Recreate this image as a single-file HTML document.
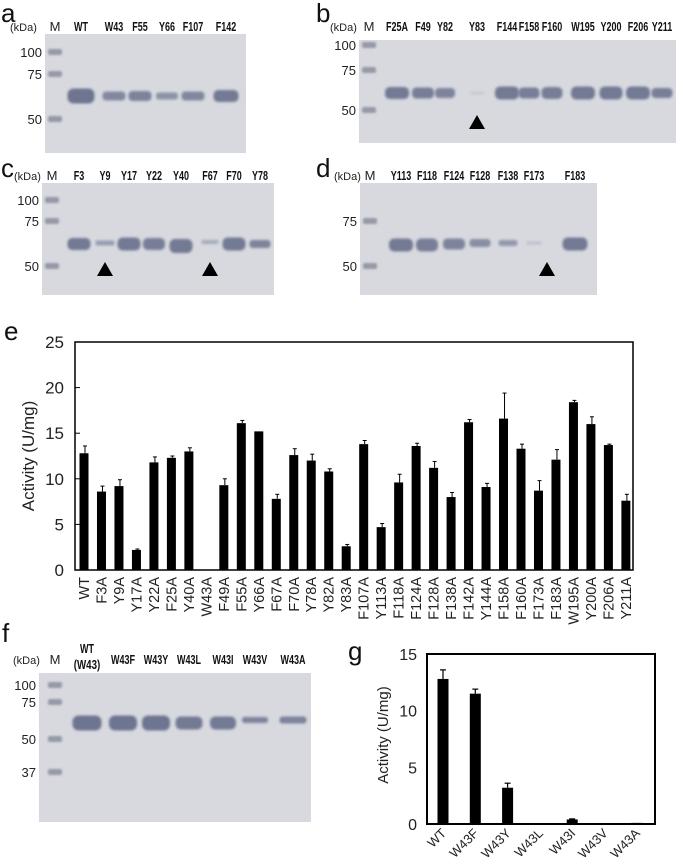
<!DOCTYPE html>
<html><head><meta charset="utf-8">
<style>
html,body{margin:0;padding:0;background:#fff;}
svg{display:block;font-family:"Liberation Sans",Arial,sans-serif;}
.lab{font-size:12.5px;font-weight:bold;fill:#111;}
.kda{font-size:11px;fill:#222;}
.mk{font-size:13px;fill:#222;}
.pl{font-size:26px;fill:#111;}
</style></head>
<body>
<svg id="fig" width="685" height="866" viewBox="0 0 685 866">
<defs>
<filter id="bl" x="-30%" y="-80%" width="160%" height="260%"><feGaussianBlur stdDeviation="1.4"/></filter>
<filter id="bl2" x="-30%" y="-80%" width="160%" height="260%"><feGaussianBlur stdDeviation="1"/></filter>
</defs>
<g id="gels"></g>
<g id="chartE"></g>
<g id="chartG"></g>
</svg>
<script>
// ---------- Chart e data ----------
const eCategories = ["WT","F3A","Y9A","Y17A","Y22A","F25A","Y40A","W43A","F49A","F55A","Y66A","F67A","F70A","Y78A","Y82A","Y83A","F107A","Y113A","F118A","F124A","F128A","F138A","F142A","Y144A","F158A","F160A","F173A","F183A","W195A","Y200A","F206A","Y211A"];
const eValues = [12.8,8.6,9.2,2.2,11.8,12.3,13.0,0.05,9.3,16.1,15.2,7.8,12.6,12.0,10.8,2.6,13.8,4.7,9.6,13.6,11.2,8.0,16.2,9.1,16.6,13.3,8.7,12.1,18.4,16.0,13.7,7.6];
const eErrors = [0.8,0.6,0.7,0.1,0.6,0.2,0.4,0,0.7,0.3,0,0.5,0.7,0.7,0.3,0.2,0.4,0.4,0.9,0.3,0.7,0.5,0.3,0.4,2.8,0.5,1.1,1.1,0.2,0.8,0.1,0.7];
const eTicks = [0,5,10,15,20,25];
// ---------- Chart g data ----------
const gCategories = ["WT","W43F","W43Y","W43L","W43I","W43V","W43A"];
const gValues = [12.8,11.5,3.2,0,0.4,0,0.1];
const gErrors = [0.8,0.4,0.4,0,0.05,0,0];
const gTicks = [0,5,10,15];

const NS="http://www.w3.org/2000/svg";
function mk(parent,tag,attrs,text){const e=document.createElementNS(NS,tag);for(const k in attrs)e.setAttribute(k,attrs[k]);if(text!==undefined)e.textContent=text;parent.appendChild(e);return e;}
function condense(t,f){try{const w=t.getComputedTextLength();if(w>0){t.setAttribute('textLength',(w*f).toFixed(1));t.setAttribute('lengthAdjust','spacingAndGlyphs');}}catch(e){}}

// ---------- Gels ----------
const gels=document.getElementById('gels');
function gel(o){
  const g=mk(gels,'g',{});
  
  
  const pl=mk(g,'text',{x:o.px,y:o.py,class:'pl'},o.letter);
  
  
  mk(g,'rect',{x:o.x,y:o.y,width:o.w,height:o.h,fill:'#d7d9df'});
  mk(g,'text',{x:o.kx,y:o.ly,class:'kda'},'(kDa)');
  mk(g,'text',{x:o.mx,y:o.ly,class:'mk','text-anchor':'middle'},'M');
  o.markers.forEach(m=>{
    mk(g,'rect',{x:o.mx-7,y:m[1]-3,width:14,height:6,rx:2,fill:'#9599a6',filter:'url(#bl2)'});
    mk(g,'text',{x:o.x-3,y:m[1]+5,class:'mk','text-anchor':'end'},m[0]);
  });
  o.lanes.forEach(l=>{
    const t=mk(g,'text',{x:l[1],y:o.ly,class:'lab','text-anchor':'middle'},l[0]);
    
    
    condense(t,0.72);
    if(l[3]>0) mk(g,'rect',{x:l[1]-l[4]/2,y:o.by-l[3]/2+(l[5]||0),width:l[4],height:l[3],rx:l[3]/2.5,fill:'#6e7590',opacity:l[2],filter:'url(#bl)'});
  });
  (o.arrows||[]).forEach(a=>{
    const p=mk(g,'polygon',{points:`${a},${o.ay} ${a-8},${o.ay+14} ${a+8},${o.ay+14}`,fill:'#000'});
    
    
  });
}
gel({name:'gel-a',letter:'a',px:1,py:22,x:45,y:34,w:201,h:119,kx:10,ly:31,mx:55,by:96,
 markers:[['100',52],['75',74],['50',119]],
 lanes:[['WT',81,1,15,27],['W43',114,0.8,9,23],['F55',140,0.85,10,23],['Y66',167,0.7,7,22],['F107',193,0.8,9,23],['F142',226,0.95,12,25]]});
gel({name:'gel-b',letter:'b',px:316,py:22,x:359,y:40,w:317,h:103,kx:330,ly:31,mx:369,by:93,
 markers:[['100',45],['75',70],['50',110]],
 lanes:[['F25A',397,0.95,12,24],['F49',423,0.9,11,22],['Y82',445,0.85,10,20],['Y83',477,0.15,3,14],['F144',507,0.95,13,24],['F158',529,0.9,11,21],['F160',552,0.9,12,21],['W195',583,0.95,13,24],['Y200',611,0.95,13,23],['F206',638,0.95,13,24],['Y211',662,0.9,10,21]],
 arrows:[477],ay:115});
gel({name:'gel-c',letter:'c',px:1,py:177,x:42,y:183,w:232,h:112,kx:14,ly:180,mx:52,by:244,
 markers:[['100',200],['75',221],['50',266]],
 lanes:[['F3',79,0.95,12,23],['Y9',105,0.6,5,19,-1],['Y17',129,0.95,13,23],['Y22',154,0.9,12,22],['Y40',181,0.95,14,23,2],['F67',210,0.45,4,17,-2],['F70',234,0.95,13,23],['Y78',260,0.85,8,21]],
 arrows:[105,210],ay:262});
gel({name:'gel-d',letter:'d',px:316,py:177,x:360,y:183,w:237,h:112,kx:334,ly:180,mx:370,by:244,
 markers:[['75',221],['50',266]],
 lanes:[['Y113',401,0.95,13,24,1],['F118',427,0.9,13,22,1],['F124',454,0.85,11,22],['F128',480,0.75,8,21,-1],['F138',508,0.65,6,19,-1],['F173',534,0.25,3,15,-1],['F183',575,0.95,13,25]],
 arrows:[547],ay:262});
gel({name:'gel-f',letter:'f',px:2,py:642,x:39,y:673,w:272,h:149,kx:13,ly:664,mx:55,by:723,
 markers:[['100',685],['75',702],['50',739],['37',772]],
 lanes:[['WT',87,1,15,29],['W43F',123,1,15,28],['W43Y',156,1,15,28],['W43L',189,0.95,13,27],['W43I',223,0.95,13,26],['W43V',255,0.85,6,26,-3],['W43A',293,0.85,7,27,-3]]});
(function(){
  const t=mk(gels,'text',{x:87,y:669,class:'lab','text-anchor':'middle'},'(W43)');
  condense(t,0.78);
  gels.querySelectorAll('text').forEach(t=>{if(t.textContent==='WT'&&t.getAttribute('y')==='664')t.setAttribute('y','653');});
})();

// ---------- Chart e ----------
(function(){
  const G=document.getElementById('chartE');
  const L=75,R=633,T=342,B=570,max=25;
  const y=v=>B-(v/max)*(B-T);
  const step=17.48, x0=84;
  const x=i=>x0+i*step;
  mk(G,'text',{x:4,y:340,class:'pl'},'e');
  eTicks.forEach(t=>{
    mk(G,'line',{x1:L,x2:L+5,y1:y(t),y2:y(t),stroke:'#000'});
    mk(G,'text',{x:64,y:y(t)+6,'font-size':17,'text-anchor':'end',fill:'#222'},t);
  });
  mk(G,'text',{x:0,y:0,'font-size':17,'text-anchor':'middle',fill:'#222',transform:'translate(34,456) rotate(-90)'},'Activity  (U/mg)');
  eCategories.forEach((c,i)=>{
    const v=eValues[i],e=eErrors[i];
    const b=mk(G,'rect',{x:x(i)-4.5,y:y(v),width:9,height:B-y(v),fill:'#000'});
    
    
    if(e>0){mk(G,'line',{x1:x(i)+1,x2:x(i)+1,y1:y(v+e),y2:y(v),stroke:'#000','stroke-width':1});
      mk(G,'line',{x1:x(i)-1,x2:x(i)+3,y1:y(v+e),y2:y(v+e),stroke:'#000','stroke-width':1});}
    mk(G,'text',{x:0,y:0,'font-size':14.5,'text-anchor':'end',fill:'#222',transform:`translate(${x(i)+5},577) rotate(-90)`},c);
  });
  const f=mk(G,'rect',{x:L,y:T,width:R-L,height:B-T,fill:'none',stroke:'#000','stroke-width':1.5});
  
  
})();

// ---------- Chart g ----------
(function(){
  const G=document.getElementById('chartG');
  const L=427,R=655,T=654,B=824,max=15;
  const y=v=>B-(v/max)*(B-T);
  const step=32.3,x0=443;
  const x=i=>x0+i*step;
  mk(G,'text',{x:348,y:660,class:'pl'},'g');
  gTicks.forEach(t=>{
    mk(G,'text',{x:417,y:y(t)+6,'font-size':16,'text-anchor':'end',fill:'#222'},t);
  });
  mk(G,'text',{x:0,y:0,'font-size':15,'text-anchor':'middle',fill:'#222',transform:'translate(388,735) rotate(-90)'},'Activity (U/mg)');
  gCategories.forEach((c,i)=>{
    const v=gValues[i],e=gErrors[i];
    if(v>0){const b=mk(G,'rect',{x:x(i)-5.5,y:y(v),width:11,height:B-y(v),fill:'#000'});
      
      }
    if(e>0){mk(G,'line',{x1:x(i),x2:x(i),y1:y(v+e),y2:y(v),stroke:'#000','stroke-width':1.2});
      mk(G,'line',{x1:x(i)-3,x2:x(i)+3,y1:y(v+e),y2:y(v+e),stroke:'#000','stroke-width':1.2});}
    mk(G,'text',{x:0,y:0,'font-size':13,'text-anchor':'end',fill:'#222',transform:`translate(${x(i)+4},834) rotate(-45)`},c);
  });
  const f=mk(G,'rect',{x:L,y:T,width:R-L,height:B-T,fill:'none',stroke:'#000','stroke-width':2});
  
  
})();
</script>
</body></html>
